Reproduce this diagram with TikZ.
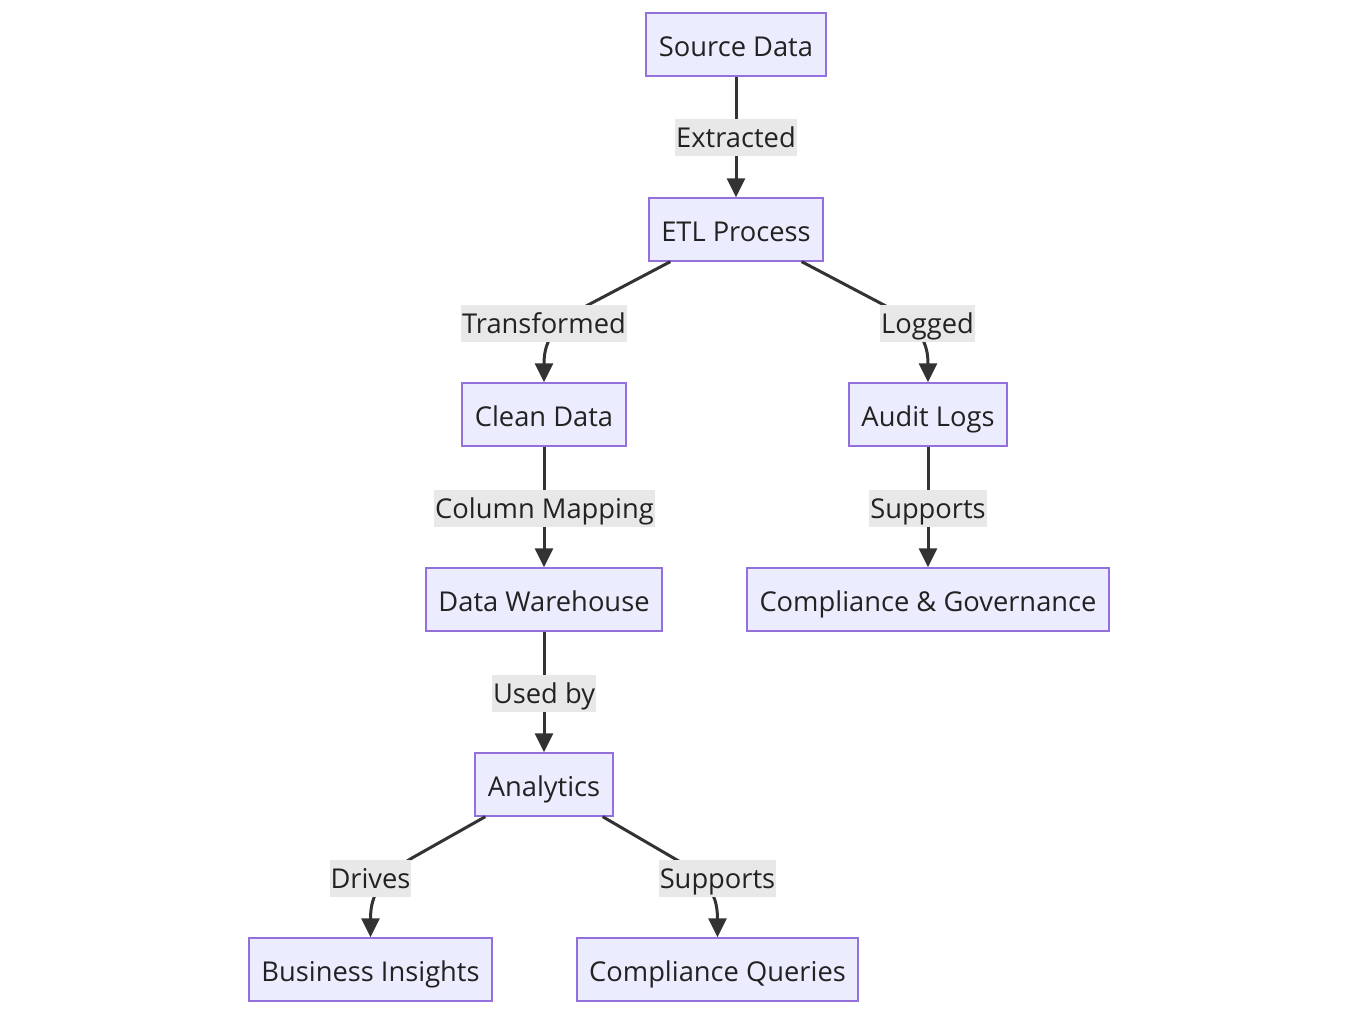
\documentclass[tikz,border=0pt]{standalone}
\usepackage{fontspec}
\setmainfont{Open Sans}
\usetikzlibrary{arrows.meta}
\definecolor{boxfill}{HTML}{ECECFF}
\definecolor{boxborder}{HTML}{9370DB}
\definecolor{labelbg}{HTML}{E8E8E8}
\definecolor{edgec}{HTML}{333333}
\definecolor{textc}{HTML}{222222}
\begin{document}
\begin{tikzpicture}[x=1pt,y=-1pt,
  box/.style={draw=boxborder, fill=boxfill, line width=1.3pt, minimum height=63pt, inner sep=0pt, text height=27pt, text depth=4pt, font=\fontsize{27.3}{32}\selectfont, text=textc},
  elabel/.style={fill=labelbg, inner xsep=1pt, inner ysep=0pt, minimum height=37pt, text height=26pt, text depth=6pt, font=\fontsize{27.3}{32}\selectfont, text=textc},
  edge/.style={draw=edgec, line width=3pt, -{Triangle[length=19pt,width=18pt]}}]
\useasboundingbox (0,0) rectangle (1358,1015);
% nodes
\node[box, minimum width=180pt] (src) at (736,44.5) {Source Data};
\node[box, minimum width=174pt] (etl) at (736,229.5) {ETL Process};
\node[box, minimum width=164pt] (clean) at (544,414.5) {Clean Data};
\node[box, minimum width=158pt] (audit) at (928,414.5) {Audit Logs};
\node[box, minimum width=236pt] (dw) at (544,599.5) {Data Warehouse};
\node[box, minimum width=362pt] (cg) at (928,599.5) {Compliance \& Governance};
\node[box, minimum width=138pt] (an) at (544,784.5) {Analytics};
\node[box, minimum width=243pt] (bi) at (370.5,969.5) {Business Insights};
\node[box, minimum width=281pt] (cq) at (717.5,969.5) {Compliance Queries};
% edges
\draw[edge] (src) -- (etl);
\draw[edge] ([xshift=22pt]etl.south west) -- (588,305) .. controls (550,326) and (544,345) .. (clean.north);
\draw[edge] ([xshift=-22pt]etl.south east) -- (884,305) .. controls (922,326) and (928,345) .. (audit.north);
\draw[edge] (clean) -- (dw);
\draw[edge] (audit) -- (cg);
\draw[edge] (dw) -- (an);
\draw[edge] ([xshift=11pt]an.south west) -- (412,858) .. controls (376,880) and (370.5,900) .. (bi.north);
\draw[edge] ([xshift=-11pt]an.south east) -- (677,860) .. controls (712,880) and (717.5,900) .. (cq.north);
% labels
\node[elabel] (l1) at (736,137) {Extracted};
\node[elabel] (l2) at (544,323) {Transformed};
\node[elabel] (l3) at (927.5,323) {Logged};
\node[elabel] (l4) at (544.5,508) {Column Mapping};
\node[elabel] (l5) at (928,508) {Supports};
\node[elabel] (l6) at (544,693) {Used by};
\node[elabel] (l7) at (370.5,878) {Drives};
\node[elabel] (l8) at (717.5,878) {Supports};
\end{tikzpicture}
\end{document}
